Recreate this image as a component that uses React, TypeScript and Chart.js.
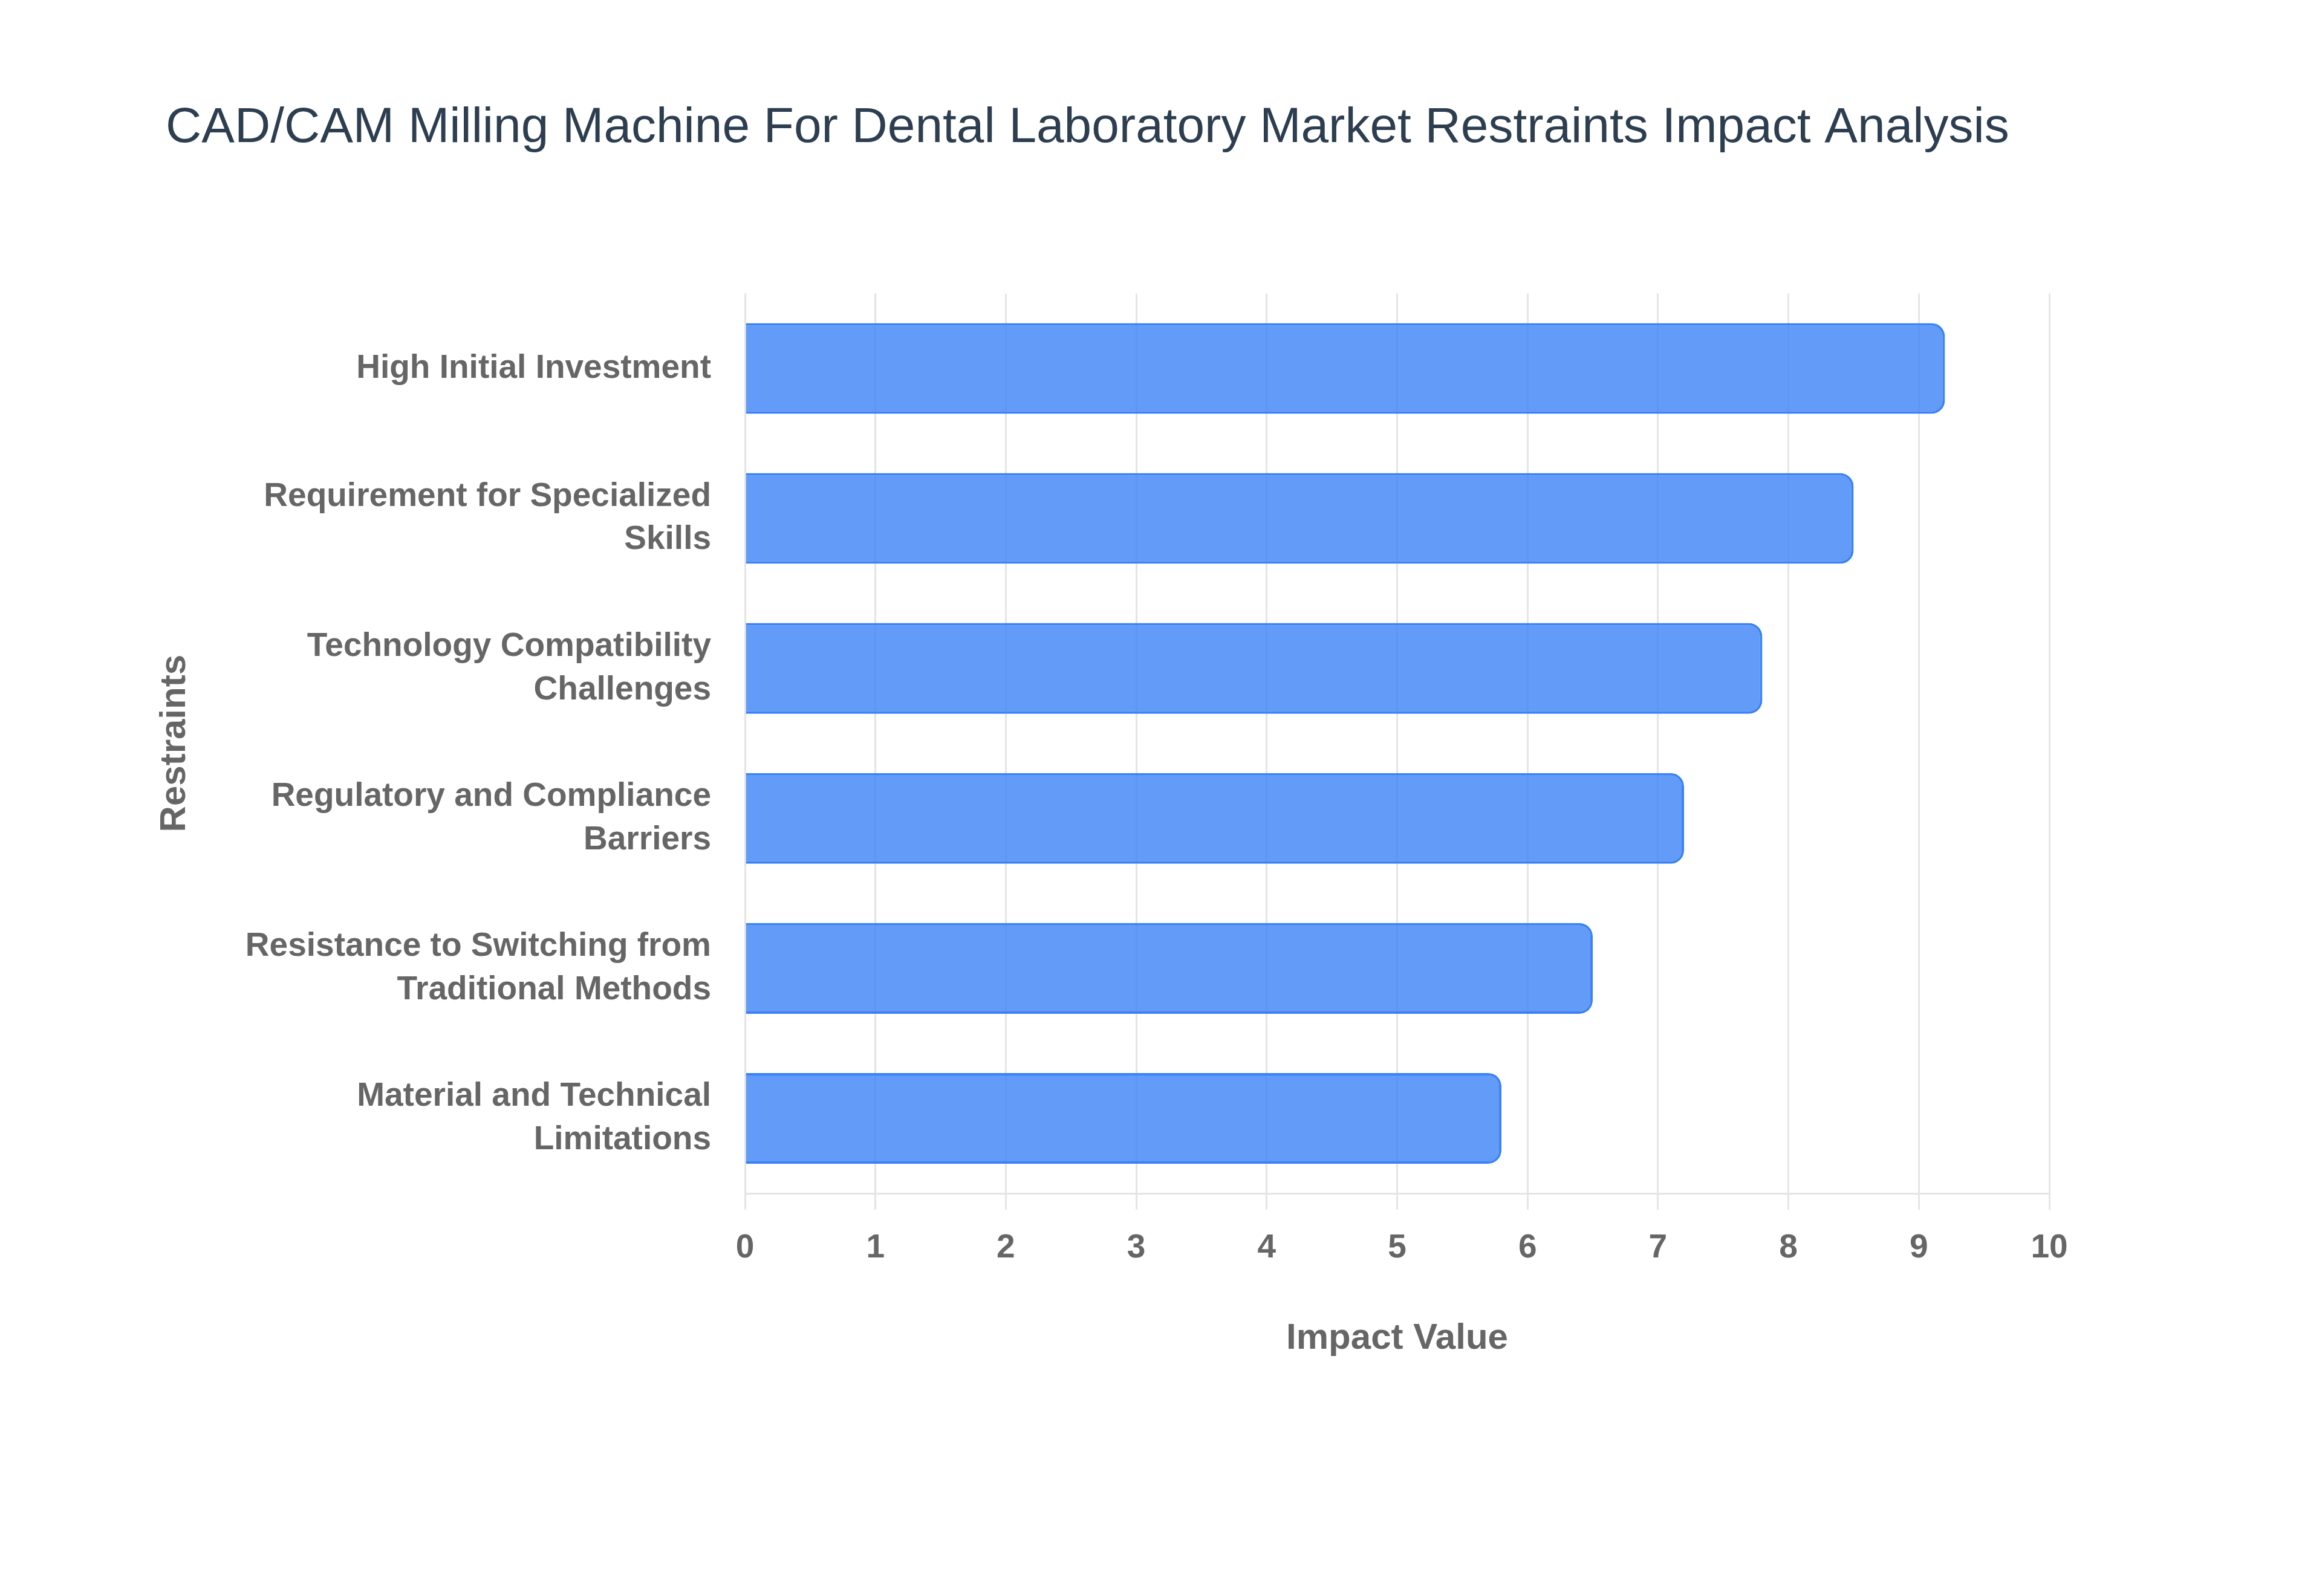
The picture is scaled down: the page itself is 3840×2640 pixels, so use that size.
import React, { useEffect, useRef } from 'react';
import { Chart, registerables } from 'chart.js';

Chart.register(...registerables);

const restraints: string[][] = [
  ['High Initial Investment'],
  ['Requirement for Specialized', 'Skills'],
  ['Technology Compatibility', 'Challenges'],
  ['Regulatory and Compliance', 'Barriers'],
  ['Resistance to Switching from', 'Traditional Methods'],
  ['Material and Technical', 'Limitations'],
];
const impactValues: number[] = [9.2, 8.5, 7.8, 7.2, 6.5, 5.8];
const xTickRange = { min: 0, max: 10, step: 1 };

const FONT = '"Liberation Sans", Arial, sans-serif';

const App: React.FC = () => {
  const canvasRef = useRef<HTMLCanvasElement>(null);
  const chartRef = useRef<Chart | null>(null);

  useEffect(() => {
    const ctx = canvasRef.current?.getContext('2d');
    if (!ctx) return;

    chartRef.current = new Chart(ctx, {
      type: 'bar',
      data: {
        labels: restraints,
        datasets: [
          {
            label: 'Impact Value',
            data: impactValues,
            backgroundColor: 'rgba(59, 130, 246, 0.8)',
            borderColor: 'rgb(59, 130, 246)',
            borderWidth: 4,
            borderRadius: 22,
            barPercentage: 0.605,
            categoryPercentage: 1,
          },
        ],
      },
      options: {
        indexAxis: 'y',
        responsive: true,
        maintainAspectRatio: false,
        animation: false,
        devicePixelRatio: 1,
        layout: { padding: { left: 274, right: 451, top: 20, bottom: 390 } },
        plugins: {
          legend: { display: false },
          tooltip: { enabled: false },
          title: {
            display: true,
            text: 'CAD/CAM Milling Machine For Dental Laboratory Market Restraints Impact Analysis',
            align: 'start',
            color: '#2c3e50',
            font: { family: FONT, size: 82, weight: 'normal', lineHeight: 1.2 },
            padding: { top: 143, bottom: 224 },
          },
        },
        scales: {
          x: {
            min: xTickRange.min,
            max: xTickRange.max,
            ticks: {
              stepSize: xTickRange.step,
              color: '#666',
              padding: 31,
              font: { family: FONT, size: 55, weight: 'bold' },
            },
            grid: { color: '#e5e5e5', lineWidth: 3, tickLength: 27 },
            border: { color: '#e5e5e5', width: 3 },
            title: {
              display: true,
              text: 'Impact Value',
              color: '#666',
              font: { family: FONT, size: 60, weight: 'bold', lineHeight: 1.2 },
              padding: { top: 49, bottom: 0 },
            },
          },
          y: {
            ticks: {
              color: '#666',
              padding: 56,
              font: { family: FONT, size: 55, weight: 'bold', lineHeight: 1.3 },
            },
            grid: { display: false, drawTicks: false },
            border: { display: false },
            title: {
              display: true,
              text: 'Restraints',
              color: '#666',
              font: { family: FONT, size: 60, weight: 'bold', lineHeight: 0.5 },
              padding: 0,
            },
            afterFit: (scale: any) => {
              scale.width = 1232 - 274;
            },
          },
        },
      },
    });

    return () => {
      chartRef.current?.destroy();
      chartRef.current = null;
    };
  }, []);

  return (
    <div style={{ position: 'fixed', left: 0, top: 0, width: 3840, height: 2640, background: '#fff' }}>
      <canvas ref={canvasRef} />
    </div>
  );
};

export default App;
